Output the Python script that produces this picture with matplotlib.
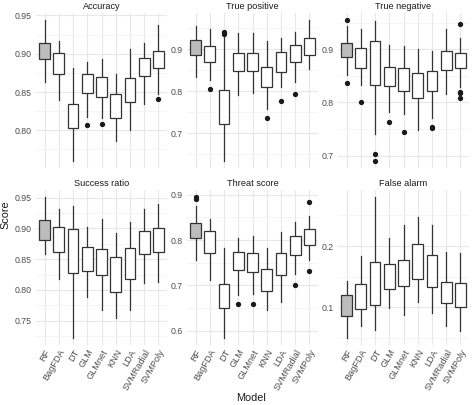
import numpy as np
import matplotlib
matplotlib.use('Agg')
import matplotlib.pyplot as plt
from matplotlib.ticker import MultipleLocator, FormatStrFormatter

plt.rcParams['font.family'] = ['Liberation Sans', 'DejaVu Sans']

models = ['RF', 'BagFDA', 'DT', 'GLM', 'GLMnet', 'KNN', 'LDA', 'SVMRadial', 'SVMPoly']
titles = ['Accuracy', 'True positive', 'True negative',
          'Success ratio', 'Threat score', 'False alarm']

# box stats: lower whisker, Q1, median, Q3, upper whisker
acc_lo  = [0.863, 0.840, 0.760, 0.817, 0.816, 0.786, 0.801, 0.835, 0.848]
acc_q1  = [0.893, 0.873, 0.803, 0.849, 0.844, 0.816, 0.837, 0.871, 0.881]
acc_med = [0.904, 0.885, 0.820, 0.860, 0.859, 0.832, 0.858, 0.885, 0.894]
acc_q3  = [0.914, 0.901, 0.834, 0.873, 0.869, 0.847, 0.868, 0.895, 0.904]
acc_hi  = [0.944, 0.917, 0.881, 0.889, 0.893, 0.873, 0.906, 0.914, 0.937]
acc_out = [[], [], [], [0.807], [0.808], [], [], [], [0.841]]

tp_lo  = [0.835, 0.826, 0.634, 0.791, 0.796, 0.758, 0.811, 0.822, 0.853]
tp_q1  = [0.887, 0.871, 0.721, 0.849, 0.849, 0.811, 0.847, 0.870, 0.887]
tp_med = [0.906, 0.889, 0.751, 0.871, 0.868, 0.835, 0.873, 0.891, 0.907]
tp_q3  = [0.923, 0.907, 0.803, 0.891, 0.891, 0.858, 0.893, 0.910, 0.927]
tp_hi  = [0.955, 0.949, 0.930, 0.938, 0.939, 0.921, 0.928, 0.941, 0.970]
tp_out = [[], [0.805], [0.936, 0.942], [], [], [0.737], [0.776], [0.794], []]

tn_lo  = [0.851, 0.832, 0.740, 0.782, 0.778, 0.749, 0.770, 0.815, 0.830]
tn_q1  = [0.886, 0.864, 0.832, 0.831, 0.822, 0.808, 0.821, 0.861, 0.864]
tn_med = [0.900, 0.888, 0.891, 0.853, 0.845, 0.830, 0.840, 0.878, 0.880]
tn_q3  = [0.912, 0.903, 0.915, 0.867, 0.864, 0.856, 0.859, 0.897, 0.893]
tn_hi  = [0.944, 0.939, 0.954, 0.909, 0.906, 0.901, 0.896, 0.939, 0.921]
tn_out = [[0.955, 0.837], [0.800], [0.704, 0.690], [0.763], [0.745], [],
          [0.754, 0.752], [], [0.947, 0.820, 0.817, 0.808]]

sr_lo  = [0.858, 0.818, 0.722, 0.788, 0.768, 0.754, 0.768, 0.812, 0.813]
sr_q1  = [0.881, 0.862, 0.827, 0.830, 0.824, 0.797, 0.817, 0.859, 0.862]
sr_med = [0.898, 0.883, 0.870, 0.852, 0.846, 0.827, 0.842, 0.877, 0.881]
sr_q3  = [0.914, 0.903, 0.899, 0.870, 0.867, 0.854, 0.868, 0.896, 0.900]
sr_hi  = [0.951, 0.931, 0.936, 0.902, 0.915, 0.892, 0.910, 0.932, 0.939]
sr_out = [[], [], [], [], [], [], [], [], []]

ts_lo  = [0.755, 0.713, 0.584, 0.679, 0.681, 0.645, 0.663, 0.725, 0.756]
ts_q1  = [0.805, 0.771, 0.650, 0.734, 0.730, 0.688, 0.722, 0.768, 0.789]
ts_med = [0.826, 0.793, 0.679, 0.756, 0.755, 0.711, 0.748, 0.794, 0.812]
ts_q3  = [0.837, 0.821, 0.703, 0.774, 0.772, 0.737, 0.772, 0.810, 0.825]
ts_hi  = [0.875, 0.846, 0.783, 0.804, 0.810, 0.783, 0.817, 0.840, 0.854]
ts_out = [[0.895, 0.890], [], [], [0.660], [0.660], [], [], [0.701], [0.883, 0.732]]

fa_lo  = [0.050, 0.070, 0.063, 0.099, 0.087, 0.109, 0.091, 0.069, 0.062]
fa_q1  = [0.086, 0.097, 0.103, 0.130, 0.134, 0.147, 0.133, 0.107, 0.101]
fa_med = [0.104, 0.119, 0.132, 0.149, 0.156, 0.174, 0.160, 0.125, 0.122]
fa_q3  = [0.120, 0.138, 0.174, 0.171, 0.178, 0.204, 0.185, 0.142, 0.139]
fa_hi  = [0.143, 0.183, 0.280, 0.213, 0.234, 0.248, 0.234, 0.190, 0.189]
fa_out = [[], [], [], [], [], [], [], [], []]

panels = [
    (acc_lo, acc_q1, acc_med, acc_q3, acc_hi, acc_out, 0.05, '%.2f'),
    (tp_lo, tp_q1, tp_med, tp_q3, tp_hi, tp_out, 0.1, '%.1f'),
    (tn_lo, tn_q1, tn_med, tn_q3, tn_hi, tn_out, 0.1, '%.1f'),
    (sr_lo, sr_q1, sr_med, sr_q3, sr_hi, sr_out, 0.05, '%.2f'),
    (ts_lo, ts_q1, ts_med, ts_q3, ts_hi, ts_out, 0.1, '%.1f'),
    (fa_lo, fa_q1, fa_med, fa_q3, fa_hi, fa_out, 0.1, '%.1f'),
]

edge = '#333333'
fig = plt.figure(figsize=(4.74, 4.05), dpi=100)

lefts = [36 / 474, 187 / 474, 338 / 474]
bottoms = [(405 - 168) / 405, (405 - 345) / 405]
w = 131 / 474
h = 155 / 405

for i, (lo, q1, med, q3, hi, out, step, fmt) in enumerate(panels):
    r, c = divmod(i, 3)
    ax = fig.add_axes([lefts[c], bottoms[r], w, h])
    stats = []
    for j, m in enumerate(models):
        stats.append(dict(label=m, whislo=lo[j], q1=q1[j], med=med[j],
                          q3=q3[j], whishi=hi[j], fliers=out[j]))
    bp = ax.bxp(stats, positions=np.arange(1, 10), widths=0.75,
                showcaps=False, patch_artist=True,
                boxprops=dict(edgecolor=edge, linewidth=0.9, facecolor='white'),
                whiskerprops=dict(color=edge, linewidth=0.9),
                medianprops=dict(color='#1a1a1a', linewidth=1.5),
                flierprops=dict(marker='o', markerfacecolor='#1a1a1a',
                                markeredgecolor='#1a1a1a', markersize=2.8))
    bp['boxes'][0].set_facecolor('#bdbdbd')
    for b in bp['boxes']:
        b.set_zorder(3)
    ax.set_xlim(0.4, 9.6)
    ax.yaxis.set_major_locator(MultipleLocator(step))
    ax.yaxis.set_minor_locator(MultipleLocator(step / 2))
    ax.yaxis.set_major_formatter(FormatStrFormatter(fmt))
    ax.grid(True, which='major', color='#e8e8e8', linewidth=0.8)
    ax.grid(True, which='minor', axis='y', color='#f2f2f2', linewidth=0.5)
    ax.set_axisbelow(True)
    for s in ax.spines.values():
        s.set_visible(False)
    ax.tick_params(axis='y', which='both', length=0, labelsize=6.3,
                   labelcolor='#4d4d4d', pad=3)
    ax.tick_params(axis='x', which='both', length=0, labelsize=6.6,
                   labelcolor='#4d4d4d', pad=2)
    ax.set_xticks(np.arange(1, 10))
    if r == 1:
        ax.set_xticklabels(models, rotation=60, ha='right',
                           rotation_mode='anchor')
    else:
        ax.set_xticklabels([])
    ax.set_title(titles[i], fontsize=6.6, color='#1a1a1a', pad=3)

fig.text(0.012, 0.47, 'Score', rotation=90, va='center', ha='center',
         fontsize=7.8, color='#1a1a1a')
fig.text(0.53, 0.017, 'Model', va='center', ha='center',
         fontsize=7.8, color='#1a1a1a')

fig.savefig('out.png', dpi=100)
